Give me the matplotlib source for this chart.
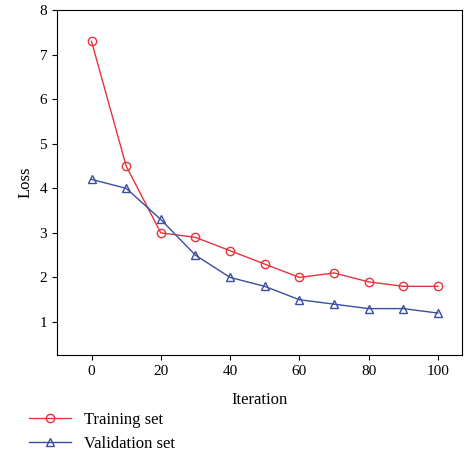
import matplotlib
matplotlib.use("Agg")
import matplotlib.pyplot as plt

iterations = [0, 10, 20, 30, 40, 50, 60, 70, 80, 90, 100]
training = [7.3, 4.5, 3.0, 2.9, 2.6, 2.3, 2.0, 2.1, 1.9, 1.8, 1.8]
validation = [4.2, 4.0, 3.3, 2.5, 2.0, 1.8, 1.5, 1.4, 1.3, 1.3, 1.2]

plt.rcParams['font.family'] = ['Liberation Serif', 'DejaVu Serif']
fig = plt.figure(figsize=(4.74, 4.58), dpi=100)
ax = fig.add_axes([0.12, 0.225, 0.855, 0.753])
l1, = ax.plot(iterations, training, color='#e8333c', marker='o', markersize=6,
              markerfacecolor='none', lw=1, label='Training set')
l2, = ax.plot(iterations, validation, color='#3a4ea0', marker='^', markersize=6,
              markerfacecolor='none', lw=1, label='Validation set')
ax.set_xlim(-10, 107)
ax.set_ylim(0.26, 8)
ax.set_xticks([0, 20, 40, 60, 80, 100])
ax.set_yticks(range(1, 9))
ax.set_xlabel('Iteration', fontsize=12, labelpad=10)
ax.set_ylabel('Loss', fontsize=12)
ax.tick_params(labelsize=11)
fig.legend(handles=[l1, l2], loc='lower left', bbox_to_anchor=(0.03, -0.02),
           frameon=False, fontsize=12, handlelength=2.5)
fig.savefig('out.png', dpi=100)
